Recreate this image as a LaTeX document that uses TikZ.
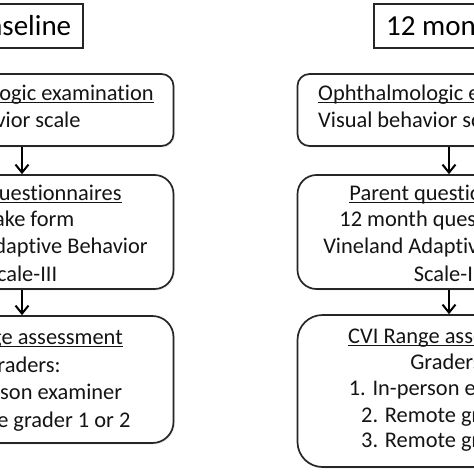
\documentclass[tikz,border=0pt]{standalone}
\usepackage{fontspec}
\setmainfont[RawFeature=-liga]{Carlito}
\usetikzlibrary{arrows.meta,shadows}
\newcommand\myul[1]{\setbox0=\hbox{#1}\rlap{\rule[-3pt]{\wd0}{1.5pt}}\box0}
\begin{document}
\begin{tikzpicture}[x=1pt,y=-1pt,
  hbox/.style={draw=black!85, line width=1.7pt, inner sep=0pt, minimum height=44pt, text height=19pt, text depth=0pt, font=\fontsize{29}{34}\selectfont},
  rbox/.style={draw=black!85, fill=white, line width=1.7pt, minimum width=303pt,
    drop shadow={opacity=0.12, shadow xshift=1.5pt, shadow yshift=-1.5pt}},
  ln/.style={inner sep=0pt, text=black!92, font=\fontsize{22.4}{27}\selectfont},
  arr/.style={draw=black, line width=2pt, -{Straight Barb[length=8pt,width=13pt]}}]
\useasboundingbox (0,0) rectangle (474,474);
\clip (0,0) rectangle (474,474);
% headers
\node[hbox, minimum width=122pt] (hL) at (22,26) {Baseline};
\node[hbox, minimum width=150pt] (hR) at (449,26) {12 months};
% boxes
\node[rbox, rounded corners=12pt, minimum height=72pt] (b1L) at (22,110) {};
\node[rbox, rounded corners=19pt, minimum height=114pt] (b2L) at (22,232) {};
\node[rbox, rounded corners=21pt, minimum height=127pt] (b3L) at (22,379.5) {};
\node[rbox, rounded corners=12pt, minimum height=72pt] (b1R) at (449,110) {};
\node[rbox, rounded corners=19pt, minimum height=114pt] (b2R) at (449,232) {};
\node[rbox, rounded corners=25pt, minimum height=152pt] (b3R) at (449,391) {};
% arrows
\draw[arr] (b1L) -- (b2L);
\draw[arr] (b2L) -- (b3L);
\draw[arr] (b1R) -- (b2R);
\draw[arr] (b2R) -- (b3R);
% left column text
\node[ln, anchor=base west] (l1a) at (-109,100) {\myul{Ophthalmologic examination}};
\node[ln, anchor=base west] (l1b) at (-109,127) {Visual behavior scale};
\node[ln, anchor=base] (l2a) at (22,200) {\myul{Parent questionnaires}};
\node[ln, anchor=base] (l2b) at (22,226) {Intake form};
\node[ln, anchor=base] (l2c) at (22,253) {Vineland Adaptive Behavior};
\node[ln, anchor=base] (l2d) at (22,281) {Scale-III};
\node[ln, anchor=base] (l3a) at (22,344) {\myul{CVI Range assessment}};
\node[ln, anchor=base] (l3b) at (22,372) {Graders:};
\node[ln, anchor=base] (l3c) at (22,399) {1. In-person examiner};
\node[ln, anchor=base] (l3d) at (22,427) {2. Remote grader 1 or 2};
% right column text
\node[ln, anchor=base west] (r1a) at (318,100) {\myul{Ophthalmologic examination}};
\node[ln, anchor=base west] (r1b) at (318,127) {Visual behavior scale};
\node[ln, anchor=base] (r2a) at (449,200) {\myul{Parent questionnaires}};
\node[ln, anchor=base] (r2b) at (449,226) {12 month questionnaire};
\node[ln, anchor=base] (r2c) at (449,253) {Vineland Adaptive Behavior};
\node[ln, anchor=base] (r2d) at (449,281) {Scale-III};
\node[ln, anchor=base] (r3a) at (449,343) {\myul{CVI Range assessment}};
\node[ln, anchor=base] (r3b) at (449,369) {Graders:};
\node[ln, anchor=base] (r3c) at (449,395) {1. In-person examiner};
\node[ln, anchor=base] (r3d) at (449,422) {2. Remote grader 1};
\node[ln, anchor=base] (r3e) at (449,447) {3. Remote grader 2};
\end{tikzpicture}
\end{document}
